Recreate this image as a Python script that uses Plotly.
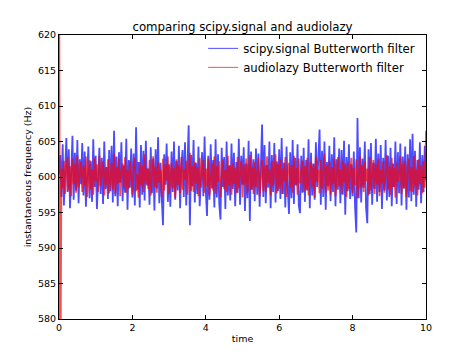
import numpy as np
import plotly.graph_objects as go

# ---------------- data ----------------
duration = 10.0  # seconds covered by the samples

scipy_freq = [
    600.4, 603.1, 597.2, 604.6, 596.0, 602.8, 605.5, 597.9, 603.9, 595.6, 601.7, 605.8, 596.8, 603.4, 598.1, 605.2, 596.3, 602.5, 599.0, 604.8,
    597.4, 603.6, 595.8, 601.9, 604.3, 597.0, 602.2, 596.5, 605.3, 598.6, 603.0, 595.5, 600.9, 604.1, 597.6, 602.7, 596.2, 605.0, 598.3, 601.4,
    596.9, 603.8, 598.0, 604.4, 596.4, 606.5, 597.3, 602.9, 595.9, 603.5, 599.2, 604.9, 596.6, 601.6, 597.8, 605.4, 595.4, 602.4, 598.5, 604.0,
    597.1, 603.3, 596.0, 607.0, 598.2, 602.1, 595.7, 604.5, 597.5, 603.7, 596.7, 605.1, 598.8, 601.2, 596.1, 604.2, 597.7, 602.6, 595.3, 603.9,
    598.4, 605.6, 596.3, 602.0, 597.0, 593.2, 603.2, 598.9, 604.7, 596.5, 601.8, 595.8, 603.6, 597.9, 605.0, 596.8, 602.3, 598.1, 604.4, 595.6,
    601.5, 603.8, 597.2, 604.9, 596.0, 602.7, 607.3, 593.2, 603.1, 598.7, 605.2, 596.4, 602.0, 597.6, 604.3, 595.9, 601.0, 603.5, 597.3, 605.7,
    598.0, 594.5, 603.0, 596.8, 604.6, 598.4, 602.4, 595.7, 605.3, 597.1, 603.2, 596.2, 594.0, 604.1, 598.6, 602.8, 595.5, 605.0, 597.4, 601.6,
    596.7, 604.7, 598.3, 603.4, 595.9, 602.1, 597.8, 605.4, 596.1, 603.0, 598.9, 604.2, 595.2, 601.9, 597.0, 605.1, 593.8, 603.6, 598.2, 602.5,
    596.6, 604.0, 597.5, 603.3, 595.8, 602.6, 607.4, 597.2, 604.5, 596.3, 601.7, 598.5, 605.0, 595.6, 603.1, 597.9, 604.8, 596.4, 602.2, 598.0,
    603.9, 596.9, 605.5, 597.6, 602.0, 595.7, 604.3, 598.4, 594.8, 603.5, 597.0, 605.2, 596.2, 602.7, 598.8, 604.6, 596.0, 594.9, 603.0, 597.8,
    604.1, 596.5, 602.4, 598.1, 605.3, 595.6, 603.4, 597.4, 601.9, 596.8, 604.9, 598.6, 602.9, 606.7, 596.1, 603.7, 597.2, 605.0, 595.4, 602.1,
    598.7, 604.4, 596.6, 603.2, 597.9, 605.6, 595.9, 602.5, 598.2, 604.0, 596.3, 603.8, 597.5, 605.1, 594.7, 602.8, 598.0, 604.6, 596.9, 601.8,
    597.3, 603.6, 595.8, 592.2, 608.3, 597.0, 604.2, 596.4, 602.6, 598.5, 605.0, 595.7, 593.5, 603.9, 597.6, 604.8, 596.1, 602.0, 598.3, 605.4,
    596.5, 603.3, 597.9, 604.5, 595.5, 602.7, 598.1, 605.2, 596.7, 603.0, 597.2, 604.1, 595.9, 601.9, 598.6, 605.0, 596.2, 603.5, 597.7, 604.7,
    596.0, 602.9, 598.4, 604.3, 595.4, 603.2, 597.1, 605.3, 596.6, 606.1, 597.5, 603.7, 595.8, 602.4, 598.2, 604.9, 596.3, 603.1, 597.9, 604.4, 599.5,
]

audiolazy_freq = [
    640.0, 565.0, 601.2, 598.4, 602.3, 597.6, 600.9, 602.8, 598.1, 601.5, 597.3, 602.6, 599.0, 601.9, 597.8, 603.1, 598.6, 600.7, 602.1, 597.9,
    601.6, 598.8, 602.9, 597.2, 600.5, 602.4, 598.3, 601.1, 597.5, 602.7, 599.4, 601.8, 597.9, 603.0, 598.7, 600.6, 602.2, 597.4, 601.3, 598.9,
    602.5, 597.7, 600.8, 602.0, 598.2, 603.3, 597.6, 601.4, 599.1, 602.6, 597.3, 600.9, 601.9, 598.5, 602.8, 597.8, 601.0, 598.4, 602.3, 599.3,
    597.5, 601.7, 602.7, 598.0, 600.4, 597.1, 602.1, 598.8, 601.6, 597.9, 603.2, 599.0, 601.2, 598.3, 602.4, 597.4, 600.7, 602.9, 598.6, 601.5,
    597.8, 602.2, 599.2, 601.0, 597.2, 602.6, 598.1, 601.8, 599.5, 602.9, 597.6, 600.6, 602.0, 598.4, 601.3, 597.0, 602.5, 598.9, 601.7, 597.7,
    602.8, 598.2, 601.1, 599.6, 602.3, 597.5, 600.9, 603.4, 598.0, 601.6, 597.9, 602.1, 599.1, 601.4, 597.3, 602.7, 598.5, 600.8, 602.4, 597.8,
    601.2, 598.7, 602.6, 597.4, 600.5, 601.9, 598.1, 602.9, 597.6, 601.5, 599.3, 602.2, 597.2, 600.9, 602.5, 598.3, 601.0, 597.9, 603.0, 598.8,
    601.7, 597.5, 602.0, 599.0, 601.3, 597.7, 602.8, 598.4, 600.6, 602.3, 597.1, 601.8, 598.9, 602.6, 597.8, 600.7, 603.1, 598.2, 601.4, 597.6,
    602.1, 598.6, 601.0, 602.7, 597.3, 600.8, 602.4, 598.0, 601.6, 597.9, 602.9, 599.2, 601.1, 597.4, 602.2, 598.7, 600.5, 603.2, 597.7, 601.9,
    598.3, 602.5, 597.6, 601.2, 599.4, 602.8, 597.2, 600.9, 602.0, 598.5, 601.7, 597.8, 603.0, 598.9, 601.3, 597.5, 602.6, 599.1, 600.6, 602.3,
    597.9, 601.5, 598.2, 602.7, 597.4, 600.7, 602.1, 598.6, 601.8, 597.1, 602.9, 599.3, 601.0, 597.7, 602.4, 598.4, 600.8, 603.3, 597.8, 601.6,
    598.1, 602.2, 597.5, 601.4, 599.0, 602.6, 597.3, 600.5, 602.8, 598.7, 601.1, 597.6, 602.3, 599.2, 601.9, 597.2, 602.0, 598.3, 600.9, 602.7,
    597.7, 601.3, 598.8, 602.5, 597.0, 600.6, 602.9, 598.5, 601.7, 597.9, 602.1, 599.4, 601.2, 597.4, 602.8, 598.1, 600.7, 602.4, 597.6, 601.8,
    598.9, 602.6, 597.3, 601.0, 599.1, 602.2, 597.8, 600.8, 603.1, 598.2, 601.5, 597.5, 602.7, 598.6, 601.3, 597.1, 602.0, 599.3, 600.6, 602.9,
    597.6, 601.9, 598.4, 602.3, 597.2, 600.7, 602.6, 598.0, 601.4, 597.9, 603.0, 598.7, 601.1, 597.4, 602.5, 599.0, 601.6, 597.7, 602.2, 598.5, 606.5,
]

series_names = ["scipy.signal Butterworth filter", "audiolazy Butterworth filter"]
series_colors = ["rgba(0,0,255,0.7)", "rgba(255,0,0,0.7)"]
x_ticks = [0, 2, 4, 6, 8, 10]
y_ticks = [580, 585, 590, 595, 600, 605, 610, 615, 620]

# time axis for each series: samples evenly spread over the duration
t_scipy = np.arange(len(scipy_freq)) * duration / (len(scipy_freq) - 1)
t_lazy = np.arange(len(audiolazy_freq)) * duration / (len(audiolazy_freq) - 1)

FONT = "DejaVu Sans"

fig = go.Figure()
# data traces (slightly thicker strokes to mimic the dense original sampling)
fig.add_trace(go.Scatter(x=t_scipy, y=scipy_freq, mode="lines", name=series_names[0],
                         line=dict(color=series_colors[0], width=1.8), showlegend=False,
                         legendgroup="s"))
fig.add_trace(go.Scatter(x=t_lazy, y=audiolazy_freq, mode="lines", name=series_names[1],
                         line=dict(color=series_colors[1], width=1.8), showlegend=False,
                         legendgroup="a"))
# thin legend entries
for name, color, grp in zip(series_names, series_colors, ["s", "a"]):
    fig.add_trace(go.Scatter(x=[None], y=[None], mode="lines", name=name,
                             line=dict(color=color, width=1), legendgroup=grp))

axis_common = dict(showline=True, linecolor="black", linewidth=1, mirror="ticks",
                   ticks="inside", ticklen=4, tickcolor="black", showgrid=False,
                   zeroline=False, tickfont=dict(family=FONT, size=9.5, color="black"))

fig.update_layout(
    width=474, height=355,
    margin=dict(l=51, r=56, t=27, b=44),
    paper_bgcolor="white", plot_bgcolor="white",
    font=dict(family=FONT, color="black"),
    title=dict(text="comparing scipy.signal and audiolazy", x=0.5, xref="paper",
               y=1 - 19 / 355, yref="container", yanchor="middle",
               font=dict(family=FONT, size=11.8, color="black")),
    xaxis=dict(range=[0, 10], tickvals=x_ticks, ticktext=[str(v) for v in x_ticks],
               title=dict(text="time", font=dict(family=FONT, size=9.5), standoff=2),
               **axis_common),
    yaxis=dict(range=[580, 620], tickvals=y_ticks, ticktext=[str(v) for v in y_ticks],
               title=dict(text="instantaneous frequency (Hz)", font=dict(family=FONT, size=9.5), standoff=4),
               **axis_common),
    legend=dict(x=0.984, y=1.004, xanchor="right", yanchor="top", bgcolor="rgba(0,0,0,0)",
                borderwidth=0, font=dict(family=FONT, size=11.7, color="black"),
                tracegroupgap=0, itemwidth=30),
    showlegend=True,
)

fig.write_html("out.html")
